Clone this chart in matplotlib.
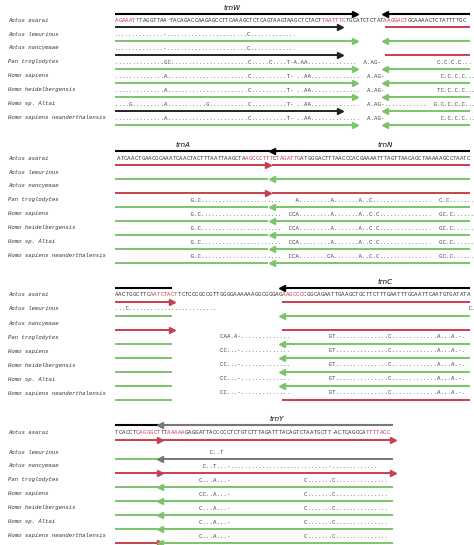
import matplotlib
matplotlib.use("Agg")
import matplotlib.pyplot as plt

W, H = 474, 545

species = ["Aotus asarai", "Aotus lemurinus", "Aotus nancymaae", "Pan troglodytes",
           "Homo sapiens", "Homo heidelbergensis", "Homo sp. Altai",
           "Homo sapiens neanderthalensis"]

# --- panel data: reference sequence, red ranges, other rows, gene bars, arrows ---
seq1 = "AGAAATTTAGGTTAA-TACAGACCAAGAGCCTTCAAAGCTCTCAGTAAGTAAGCTCTACTTAATTTCTGCATCTCTATAAGGACTGCAAAACTCTATTTTGC"
red1 = [(0, 7), (60, 67), (78, 85)]
rows1 = [
    "..............-.......................C.............",
    "..............-.......................C.............",
    "..............GC......................C.....C....T-A.AA..............  A.AG-                C.C.C.C...",
    "..............A.......................C..........T- ..AA..............  A.AG-                C.C.C.C...",
    "..............A.......................C..........T- ..AA..............  A.AG-               TC.C.C.C...",
    "....G.........A...........G...........C..........T- ..AA..............  A.AG-............  G.C.C.C.C...",
    "..............A.......................C..........T- ..AA..............  A.AG-                C.C.C.C...",
]
seq2 = "ATCAACTGAACGCAAATCAACTACTTTAATTAAGCTAAGCCCTTTCTAGATTGATGGGACTTTAACCCACGAAAATTTAGTTAACAGCTAAAAAGCCTAATC"
red2 = [(37, 45), (46, 53)]
rows2 = [
    "",
    "",
    "                     G.C.......................    A.........A.......A..C.................  C.C.......",
    "                     G.C.......................  CCA.........A.......A..C.C...............  GC.C......",
    "                     G.C.......................  CCA.........A.......A..C.C...............  GC.C......",
    "                     G.C.......................  CCA.........A.......A..C.C...............  GC.C......",
    "                     G.C.......................  CCA........CA.......A..C.C...............  GC.C......",
]
seq3 = "AACTGGCTTCAATCTACTTCTCCCGCCGTTGGGGAAAAAAGGCGGGAGAAGCCCCGGCAGAATTGAAGCTGCTTCTTTGAATTTGCAATTCAATGTGATATA"
red3 = [(10, 18), (48, 55)]
rows3 = [
    "...C.........................                                                                        C.",
    "",
    "                              CAA.A-..............           GT...............C.............A...A.-.",
    "                              CC...-..............           GT...............C.............A...A.-.",
    "                              CC...-..............           GT...............C.............A...A.-.",
    "                              CC...-..............           GT...............C.............A...A.-.",
    "                              CC...-..............           GT...............C.............A...A.-.",
]
seq4 = "TCACCTCAGGGCTTTAAAAAGAGGATTACCCCCTCTGTCTTTAGATTTACAGTCTAATGCTT-ACTCAGCCATTTTACC"
red4 = [(6, 13), (15, 20), (72, 79)]
rows4 = [
    "                           C..T",
    "                         C..T...-............................-.............",
    "                        C...A...-                     C.......C...............",
    "                        CC..A...-                     C.......C...............",
    "                        C...A...-                     C.......C...............",
    "                        C...A...-                     C.......C...............",
    "                        C...A...-                     C.......C...............",
]

# panels: (top y of gene bar, first row y, row step, seq, red ranges, rows, seq x-span)
panels = [
    (14, 20, 14, seq1, red1, rows1, (115, 466)),
    (151, 158, 14, seq2, red2, rows2, (117, 470)),
    (288, 295, 14, seq3, red3, rows3, (115, 470)),
    (425, 433, 14, seq4, red4, rows4, (115, 390)),
]
# gene bars: (panel, x0, x1, head, colour, label, label_x)
bars = [
    (0, 115, 355, ">", "k", "trnW", 232), (0, 385, 470, "<", "k", None, 0),
    (1, 115, 270, None, "k", "trnA", 183), (1, 272, 470, "<", "k", "trnN", 385),
    (2, 115, 172, None, "k", None, 0), (2, 282, 470, "<", "k", "trnC", 385),
    (3, 115, 160, None, "k", None, 0), (3, 160, 393, "<", "#777777", "trnY", 277),
]
BK, GR, RD, GY = "#222222", "#7cc36a", "#c8404f", "#777777"
# arrows under rows: (panel, row, x0, x1, head, colour)
arrows = []
a1 = [(BK, ">", RD, None), (GR, ">", GR, "<"), (BK, ">", RD, None), (GR, ">", GR, "<"),
      (GR, ">", GR, "<"), (GR, ">", GR, "<"), (BK, ">", GR, "<"), (GR, ">", GR, "<")]
for r, (c1, h1, c2, h2) in enumerate(a1):
    arrows += [(0, r, 115, 355 if c1 == GR else 340, h1, c1), (0, r, 385, 470, h2, c2)]
a2 = [(RD, ">", RD, None), (GR, None, GR, "<"), (RD, ">", RD, None)] + [(GR, None, GR, "<")] * 5
for r, (c1, h1, c2, h2) in enumerate(a2):
    arrows += [(1, r, 115, 268, h1, c1), (1, r, 272, 470, h2, c2)]
a3 = [(RD, ">", RD, None), (GR, None, GR, "<"), (RD, ">", RD, None)] + [(GR, None, GR, "<")] * 4 + [(GR, None, RD, None)]
for r, (c1, h1, c2, h2) in enumerate(a3):
    arrows += [(2, r, 115, 172, h1, c1), (2, r, 282, 470, h2, c2)]
a4 = [(RD, ">", RD, ">"), (GR, None, GY, "<"), (RD, ">", RD, ">")] + [(GR, None, GR, "<")] * 4 + [(RD, ">", GR, "<")]
for r, (c1, h1, c2, h2) in enumerate(a4):
    arrows += [(3, r, 115, 160, h1, c1), (3, r, 160, 393, h2, c2)]

fig = plt.figure(figsize=(W / 100, H / 100), dpi=100)
ax = fig.add_axes([0, 0, 1, 1])
ax.set_xlim(0, W)
ax.set_ylim(H, 0)
ax.axis("off")

mono = "Liberation Mono"


def draw_arrow(x0, x1, y, head, color, lw=1.4):
    ax.plot([x0, x1], [y, y], color=color, lw=lw, solid_capstyle="butt")
    if head == ">":
        ax.plot(x1, y, marker=">", color=color, ms=5, mec=color)
    elif head == "<":
        ax.plot(x0, y, marker="<", color=color, ms=5, mec=color)


for p, (bar_y, row_y, step, seq, reds, rows, (sx0, sx1)) in enumerate(panels):
    cw = (sx1 - sx0) / len(seq)
    fs = cw / 0.6 * 72 / 100
    for i, name in enumerate(species):
        y = row_y + i * step + (5 if p == 3 and i > 0 else 0)
        ax.text(8, y, name, family=mono, style="italic", fontsize=4.1, va="center", color="#333333")
    # reference sequence coloured per char
    for j, ch in enumerate(seq):
        col = RD if any(a <= j < b for a, b in reds) else "#333333"
        ax.text(sx0 + j * cw, row_y, ch, family=mono, fontsize=fs, va="center", color=col)
    for i, s in enumerate(rows, start=1):
        y = row_y + i * step + (5 if p == 3 else 0)
        ax.text(sx0, y, s, family=mono, fontsize=fs, va="center", color="#444444")

for p, x0, x1, head, color, label, lx in bars:
    y = panels[p][0]
    draw_arrow(x0, x1, y, head, color, lw=1.5)
    if label:
        ax.text(lx, y - 6, label, fontsize=5, style="italic", ha="center", va="center")

for p, r, x0, x1, head, color in arrows:
    bar_y, row_y, step = panels[p][:3]
    y = row_y + r * step + 7 + (5 if p == 3 and r > 0 else 0)
    draw_arrow(x0, x1, y, head, color)

fig.savefig("out.png", dpi=100)
